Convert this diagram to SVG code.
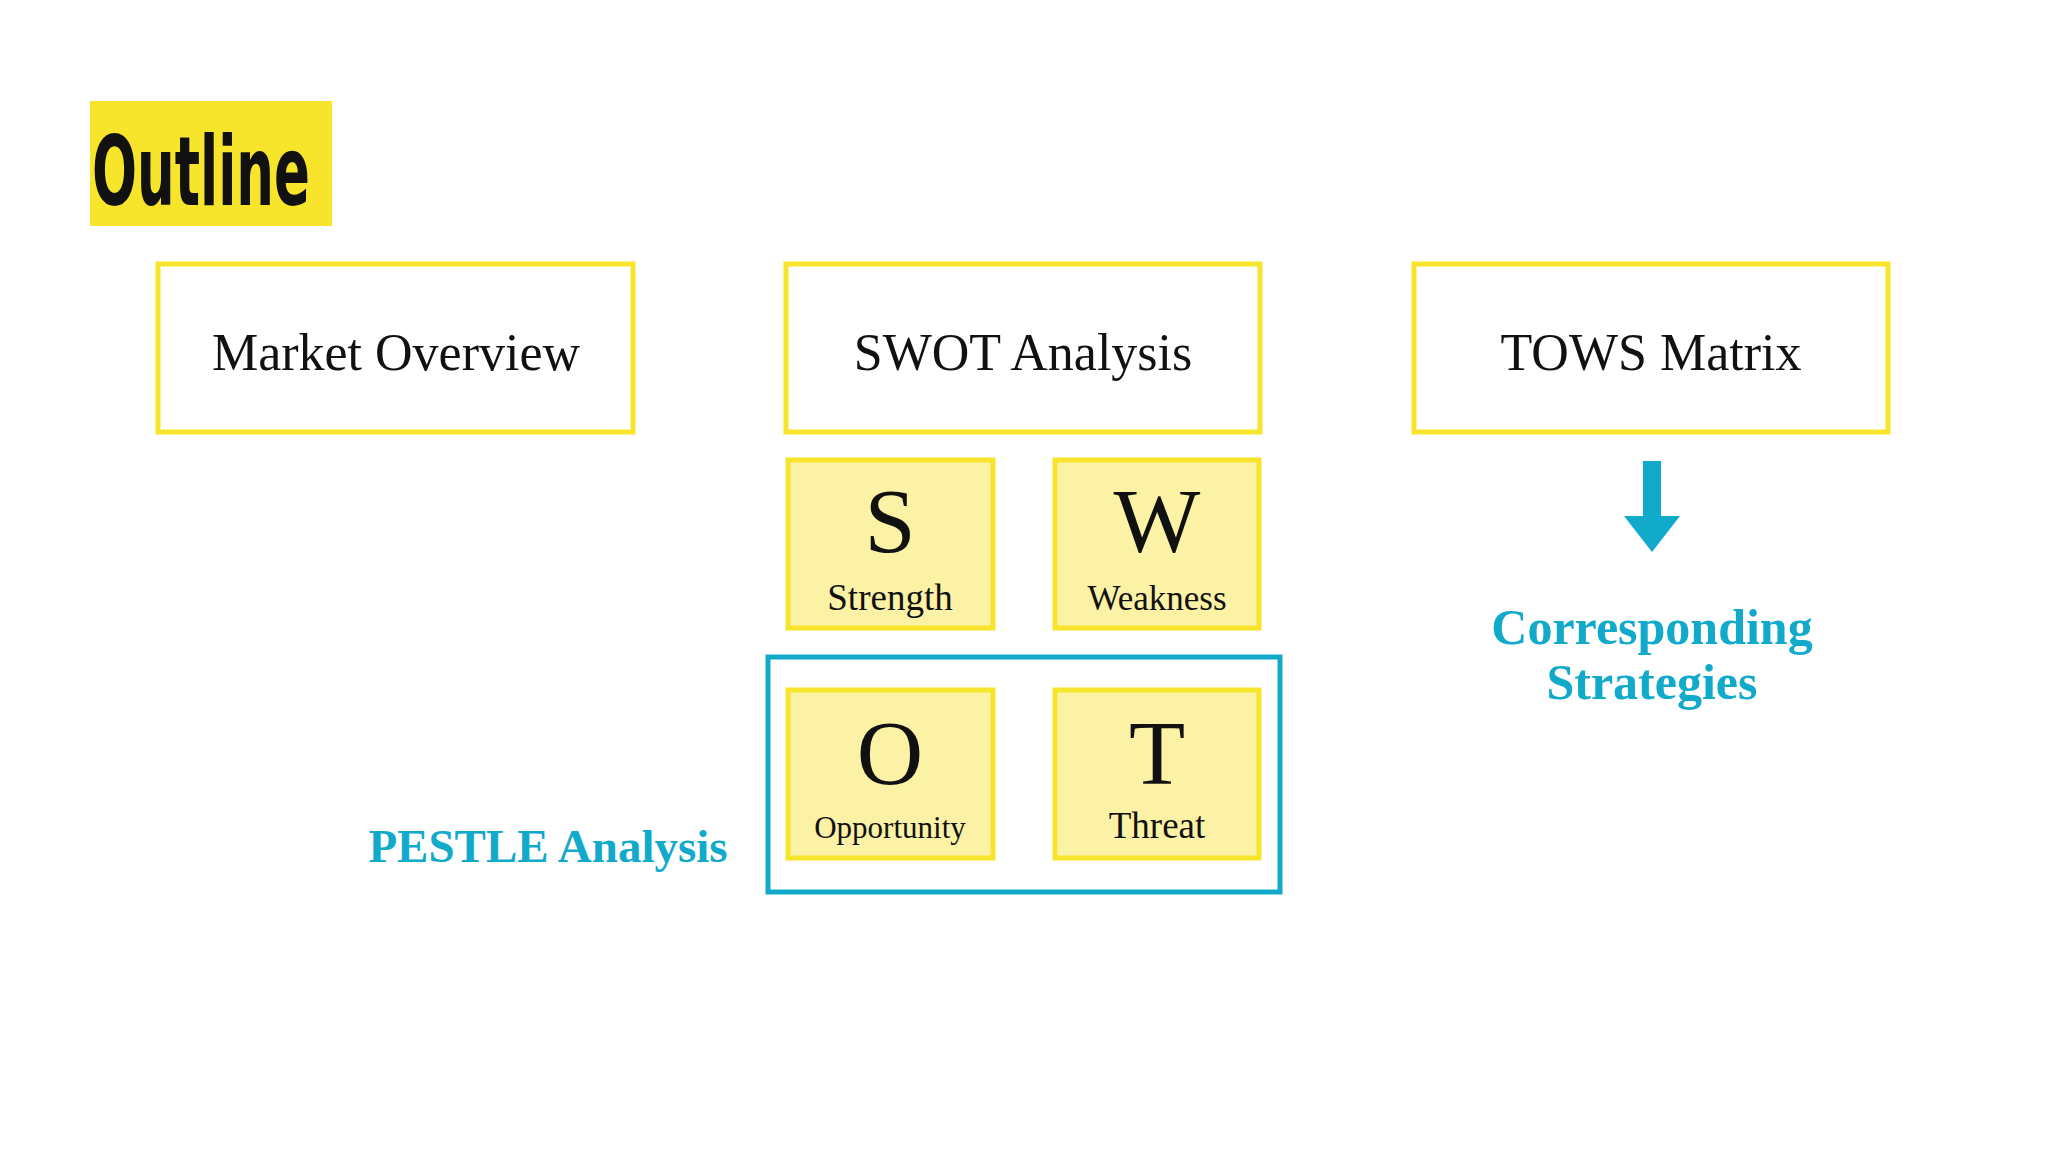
<svg xmlns="http://www.w3.org/2000/svg" width="2048" height="1152" viewBox="0 0 2048 1152">
<style>
.box{fill:#fff;stroke:#f7e52b;stroke-width:5}
.sq{fill:#fbf2a6;stroke:#f7e52b;stroke-width:5}
.t{font-family:"Liberation Serif",serif;fill:#111;text-anchor:middle}
.b{font-family:"Liberation Serif",serif;font-weight:bold;fill:#12aacb;text-anchor:middle}
</style>
<rect width="2048" height="1152" fill="#fff"/>
<g id="title"><rect x="90" y="101" width="242" height="125" fill="#f7e52b"/>
<text x="92" y="205" font-family="DejaVu Sans Condensed,sans-serif" font-weight="bold" font-stretch="condensed" font-size="96" textLength="218" lengthAdjust="spacingAndGlyphs" fill="#111">Outline</text></g>
<g id="market"><rect class="box" x="158" y="264" width="475" height="168"/><text class="t" x="396" y="370" font-size="52">Market Overview</text></g>
<g id="swot"><rect class="box" x="786" y="264" width="474" height="168"/><text class="t" x="1023" y="370" font-size="52">SWOT Analysis</text></g>
<g id="tows"><rect class="box" x="1414" y="264" width="474" height="168"/><text class="t" x="1651" y="370" font-size="52">TOWS Matrix</text></g>
<g id="pestle"><rect x="768" y="657" width="512" height="235" fill="none" stroke="#12aacb" stroke-width="5"/><text class="b" x="548" y="862" font-size="47">PESTLE Analysis</text></g>
<g id="s"><rect class="sq" x="788" y="460" width="205" height="168"/><text class="t" x="890" y="552" font-size="92">S</text><text class="t" x="890" y="610" font-size="37">Strength</text></g>
<g id="w"><rect class="sq" x="1055" y="460" width="204" height="168"/><text class="t" x="1157" y="552" font-size="92">W</text><text class="t" x="1157" y="610" font-size="35">Weakness</text></g>
<g id="o"><rect class="sq" x="788" y="690" width="205" height="168"/><text class="t" x="890" y="784" font-size="92">O</text><text class="t" x="890" y="838" font-size="31">Opportunity</text></g>
<g id="th"><rect class="sq" x="1055" y="690" width="204" height="168"/><text class="t" x="1157" y="784" font-size="92">T</text><text class="t" x="1157" y="838" font-size="37">Threat</text></g>
<g id="connectors"><polygon points="1643,461 1661,461 1661,516 1680,516 1652,552 1624,516 1643,516" fill="#12aacb"/></g>
<g id="strategies"><text class="b" x="1652" y="644" font-size="50">Corresponding</text><text class="b" x="1652" y="699" font-size="50">Strategies</text></g>
</svg>
